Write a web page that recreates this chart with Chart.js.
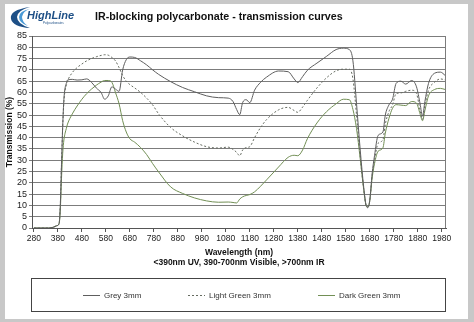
<!DOCTYPE html>
<html>
<head>
<meta charset="utf-8">
<script src="https://cdn.jsdelivr.net/npm/chart.js@4.4.1/dist/chart.umd.min.js"></script>
<style>
  html, body { margin: 0; padding: 0; background: #c8c8c8; }
  #wrap { position: relative; width: 474px; height: 322px; }
</style>
</head>
<body>
<div id="wrap"><canvas id="myChart" width="474" height="322"></canvas></div>
<script>
const FONT = "'Liberation Sans', Arial, sans-serif";

// wavelength (nm) of each sample
const wavelengths = [280, 300, 340, 360, 375, 385, 390, 395, 400, 405,
  410, 415, 420, 440, 460, 480, 500, 520, 540, 560,
  575, 590, 605, 620, 635, 650, 665, 680, 700, 725,
  750, 775, 800, 850, 900, 950, 1000, 1050, 1090, 1110,
  1125, 1138, 1150, 1165, 1180, 1200, 1225, 1250, 1300, 1340,
  1365, 1380, 1400, 1420, 1460, 1500, 1540, 1570, 1595, 1610,
  1625, 1640, 1655, 1665, 1672, 1680, 1690, 1700, 1715, 1735,
  1745, 1760, 1775, 1790, 1810, 1830, 1855, 1875, 1890, 1900,
  1910, 1925, 1950, 1975, 1995];

// transmission (%) for each sheet
const grey3mm = [0, 0, 0, 0.3, 1, 2, 10, 28, 45, 57,
  62, 64, 65.5, 65.8, 65.5, 65.6, 66, 64.5, 62, 60,
  57, 58.5, 62.5, 61.5, 60.5, 70, 74.5, 75.7, 75.5, 74,
  72.2, 70, 68, 64.8, 62.2, 60.3, 58.5, 57.7, 57.5, 56,
  52.5, 50.2, 55.5, 56.8, 55.5, 61, 64.5, 66.8, 69.5, 69.2,
  66, 64.4, 67, 69.8, 73, 76, 79, 79.6, 79, 74,
  55, 35, 18, 10, 9, 12, 24, 32, 41, 42.5,
  50, 54.5, 57, 64, 65, 63.7, 65.3, 62.5, 55, 49.5,
  56, 64, 68.5, 69, 67.5];

const lightGreen3mm = [0, 0, 0, 0.3, 1, 2, 10, 28, 45, 56,
  61, 63, 65, 68.8, 71, 72.6, 74, 75, 75.8, 76.4,
  76.7, 76.5, 75.5, 74, 71, 67.5, 65, 63.5, 62, 60,
  57.5, 54.5, 50.5, 44.5, 40.8, 38, 36, 35.4, 35.8, 34.8,
  33.5, 32, 34.5, 35.6, 36, 40, 44.5, 48, 52.3, 53.4,
  52, 51.2, 53.5, 56.5, 62, 66.5, 69.6, 70.3, 70.3, 66,
  50, 32, 17, 10, 9.5, 12, 23, 30, 37.5, 39,
  46, 51.5, 54.5, 59.5, 59.8, 60.5, 61, 59.5, 52, 48,
  54, 61, 64.5, 66, 65.5];

const darkGreen3mm = [0, 0, 0, 0.3, 1, 2, 8, 22, 33, 39,
  42, 44, 46, 50.5, 54, 57, 59.5, 61.5, 63.2, 64.6,
  65.3, 65.3, 64.5, 60, 55, 47.5, 42.5, 39.5, 38, 35.6,
  32.5, 28.5, 24.8, 18.2, 15.3, 13.3, 12, 11.4, 11.5, 11.3,
  11.1, 12.8, 13.8, 14.4, 14.8, 16, 18.5, 21.3, 27, 31.3,
  32.2, 32, 34.5, 39.5, 46.5, 51.5, 55, 57, 56.8, 52.5,
  44, 31, 17, 10, 9.3, 12, 22, 28.5, 34, 35.5,
  42, 48.5, 53, 54.6, 54.4, 54.2, 56, 55.3, 50.5, 47.5,
  52, 58.5, 61.3, 61.8, 61.3];

const xTickLabels = [280, 380, 480, 580, 680, 780, 880, 980, 1080, 1180,
  1280, 1380, 1480, 1580, 1680, 1780, 1880, 1980];

function toPoints(values) {
  return wavelengths.map((w, i) => ({ x: w, y: values[i] }));
}

// grey surround, white panel, title and logo
const panel = {
  id: 'panel',
  beforeDraw(chart) {
    const c = chart.ctx;
    c.save();
    c.fillStyle = '#c8c8c8';
    c.fillRect(0, 0, chart.width, chart.height);
    c.fillStyle = '#ffffff';
    c.fillRect(5, 4, 463, 315);

    // logo swoosh
    c.fillStyle = '#1d4f86';
    c.beginPath();
    c.moveTo(30, 7);
    c.quadraticCurveTo(9, 10, 11, 19);
    c.quadraticCurveTo(13, 27, 30, 28);
    c.quadraticCurveTo(17, 24, 17, 17);
    c.quadraticCurveTo(18, 10, 30, 7);
    c.fill();
    c.fillStyle = '#4a9ad6';
    c.beginPath();
    c.moveTo(30, 9);
    c.quadraticCurveTo(19, 11, 19, 17);
    c.quadraticCurveTo(19, 23, 28, 26);
    c.quadraticCurveTo(22, 22, 22, 17);
    c.quadraticCurveTo(23, 11, 30, 9);
    c.fill();
    c.fillStyle = '#1d4f86';
    c.font = 'italic bold 11px ' + FONT;
    c.textBaseline = 'middle';
    c.fillText('HighLine', 27, 16);
    c.font = '3px ' + FONT;
    c.fillText('Polycarbonates', 43, 23);

    c.fillStyle = '#111';
    c.font = 'bold 10.7px ' + FONT;
    c.fillText('IR-blocking polycarbonate - transmission curves', 95, 17);
    c.restore();
  },
  afterDatasetsDraw(chart) {
    const a = chart.chartArea;
    const c = chart.ctx;
    c.save();
    c.strokeStyle = '#7c7c7c';
    c.lineWidth = 1;
    c.beginPath();
    c.moveTo(Math.round(a.right) - 0.5, a.top);
    c.lineTo(Math.round(a.right) - 0.5, a.bottom);
    c.stroke();
    c.restore();
  }
};

// boxed legend under the axis title
const boxedLegend = {
  id: 'boxedLegend',
  afterDraw(chart) {
    const c = chart.ctx;
    const starts = [83, 188, 318];
    c.save();
    c.strokeStyle = '#444';
    c.lineWidth = 1;
    c.strokeRect(31.5, 278.5, 414, 33);
    c.font = '8px ' + FONT;
    c.fillStyle = '#333';
    c.textBaseline = 'middle';
    chart.data.datasets.forEach((ds, i) => {
      c.strokeStyle = ds.borderColor;
      c.setLineDash(ds.borderDash || []);
      c.beginPath();
      c.moveTo(starts[i], 295.5);
      c.lineTo(starts[i] + 17, 295.5);
      c.stroke();
      c.setLineDash([]);
      c.fillText(ds.label, starts[i] + 21, 296);
    });
    c.restore();
  }
};

const ctx = document.getElementById('myChart');

const chart = new Chart(ctx, {
  type: 'line',
  data: {
    datasets: [{
      label: 'Grey 3mm',
      data: toPoints(grey3mm),
      borderColor: '#5e5e5e',
      borderWidth: 1
    }, {
      label: 'Light Green 3mm',
      data: toPoints(lightGreen3mm),
      borderColor: '#656b60',
      borderWidth: 1,
      borderDash: [2, 2]
    }, {
      label: 'Dark Green 3mm',
      data: toPoints(darkGreen3mm),
      borderColor: '#728f55',
      borderWidth: 1
    }]
  },
  options: {
    responsive: false,
    animation: false,
    devicePixelRatio: 1,
    elements: {
      point: { radius: 0 },
      line: { cubicInterpolationMode: 'monotone' }
    },
    layout: { padding: { top: 36, left: 5, right: 28, bottom: 54 } },
    plugins: {
      legend: { display: false },
      title: { display: false },
      tooltip: { enabled: false }
    },
    scales: {
      x: {
        type: 'linear',
        min: 272,
        max: 1998,
        afterBuildTicks(scale) {
          scale.ticks = xTickLabels.map(v => ({ value: v }));
        },
        afterFit(scale) {
          scale.height = 40;
        },
        ticks: {
          autoSkip: false,
          maxRotation: 0,
          padding: 2,
          color: '#222',
          font: { family: FONT, size: 8.5 },
          callback: v => String(v)
        },
        grid: {
          drawOnChartArea: false,
          tickLength: 4,
          color: '#555'
        },
        border: { color: '#555' },
        title: {
          display: true,
          text: ['Wavelength (nm)', '<390nm UV, 390-700nm Visible, >700nm IR'],
          color: '#111',
          padding: { top: 0, bottom: 0 },
          font: { family: FONT, size: 8.5, weight: 'bold', lineHeight: 1.18 }
        }
      },
      y: {
        min: 0,
        max: 85,
        afterFit(scale) {
          scale.width = 27;
        },
        ticks: {
          stepSize: 5,
          autoSkip: false,
          padding: 2,
          color: '#222',
          font: { family: FONT, size: 9 }
        },
        grid: {
          color: '#7c7c7c',
          tickLength: 3
        },
        border: { color: '#555' },
        title: {
          display: true,
          text: 'Transmission (%)',
          color: '#111',
          padding: { top: 0, bottom: 0 },
          font: { family: FONT, size: 8.5, weight: 'bold', lineHeight: 1.18 }
        }
      }
    }
  },
  plugins: [panel, boxedLegend]
});
</script>
</body>
</html>
